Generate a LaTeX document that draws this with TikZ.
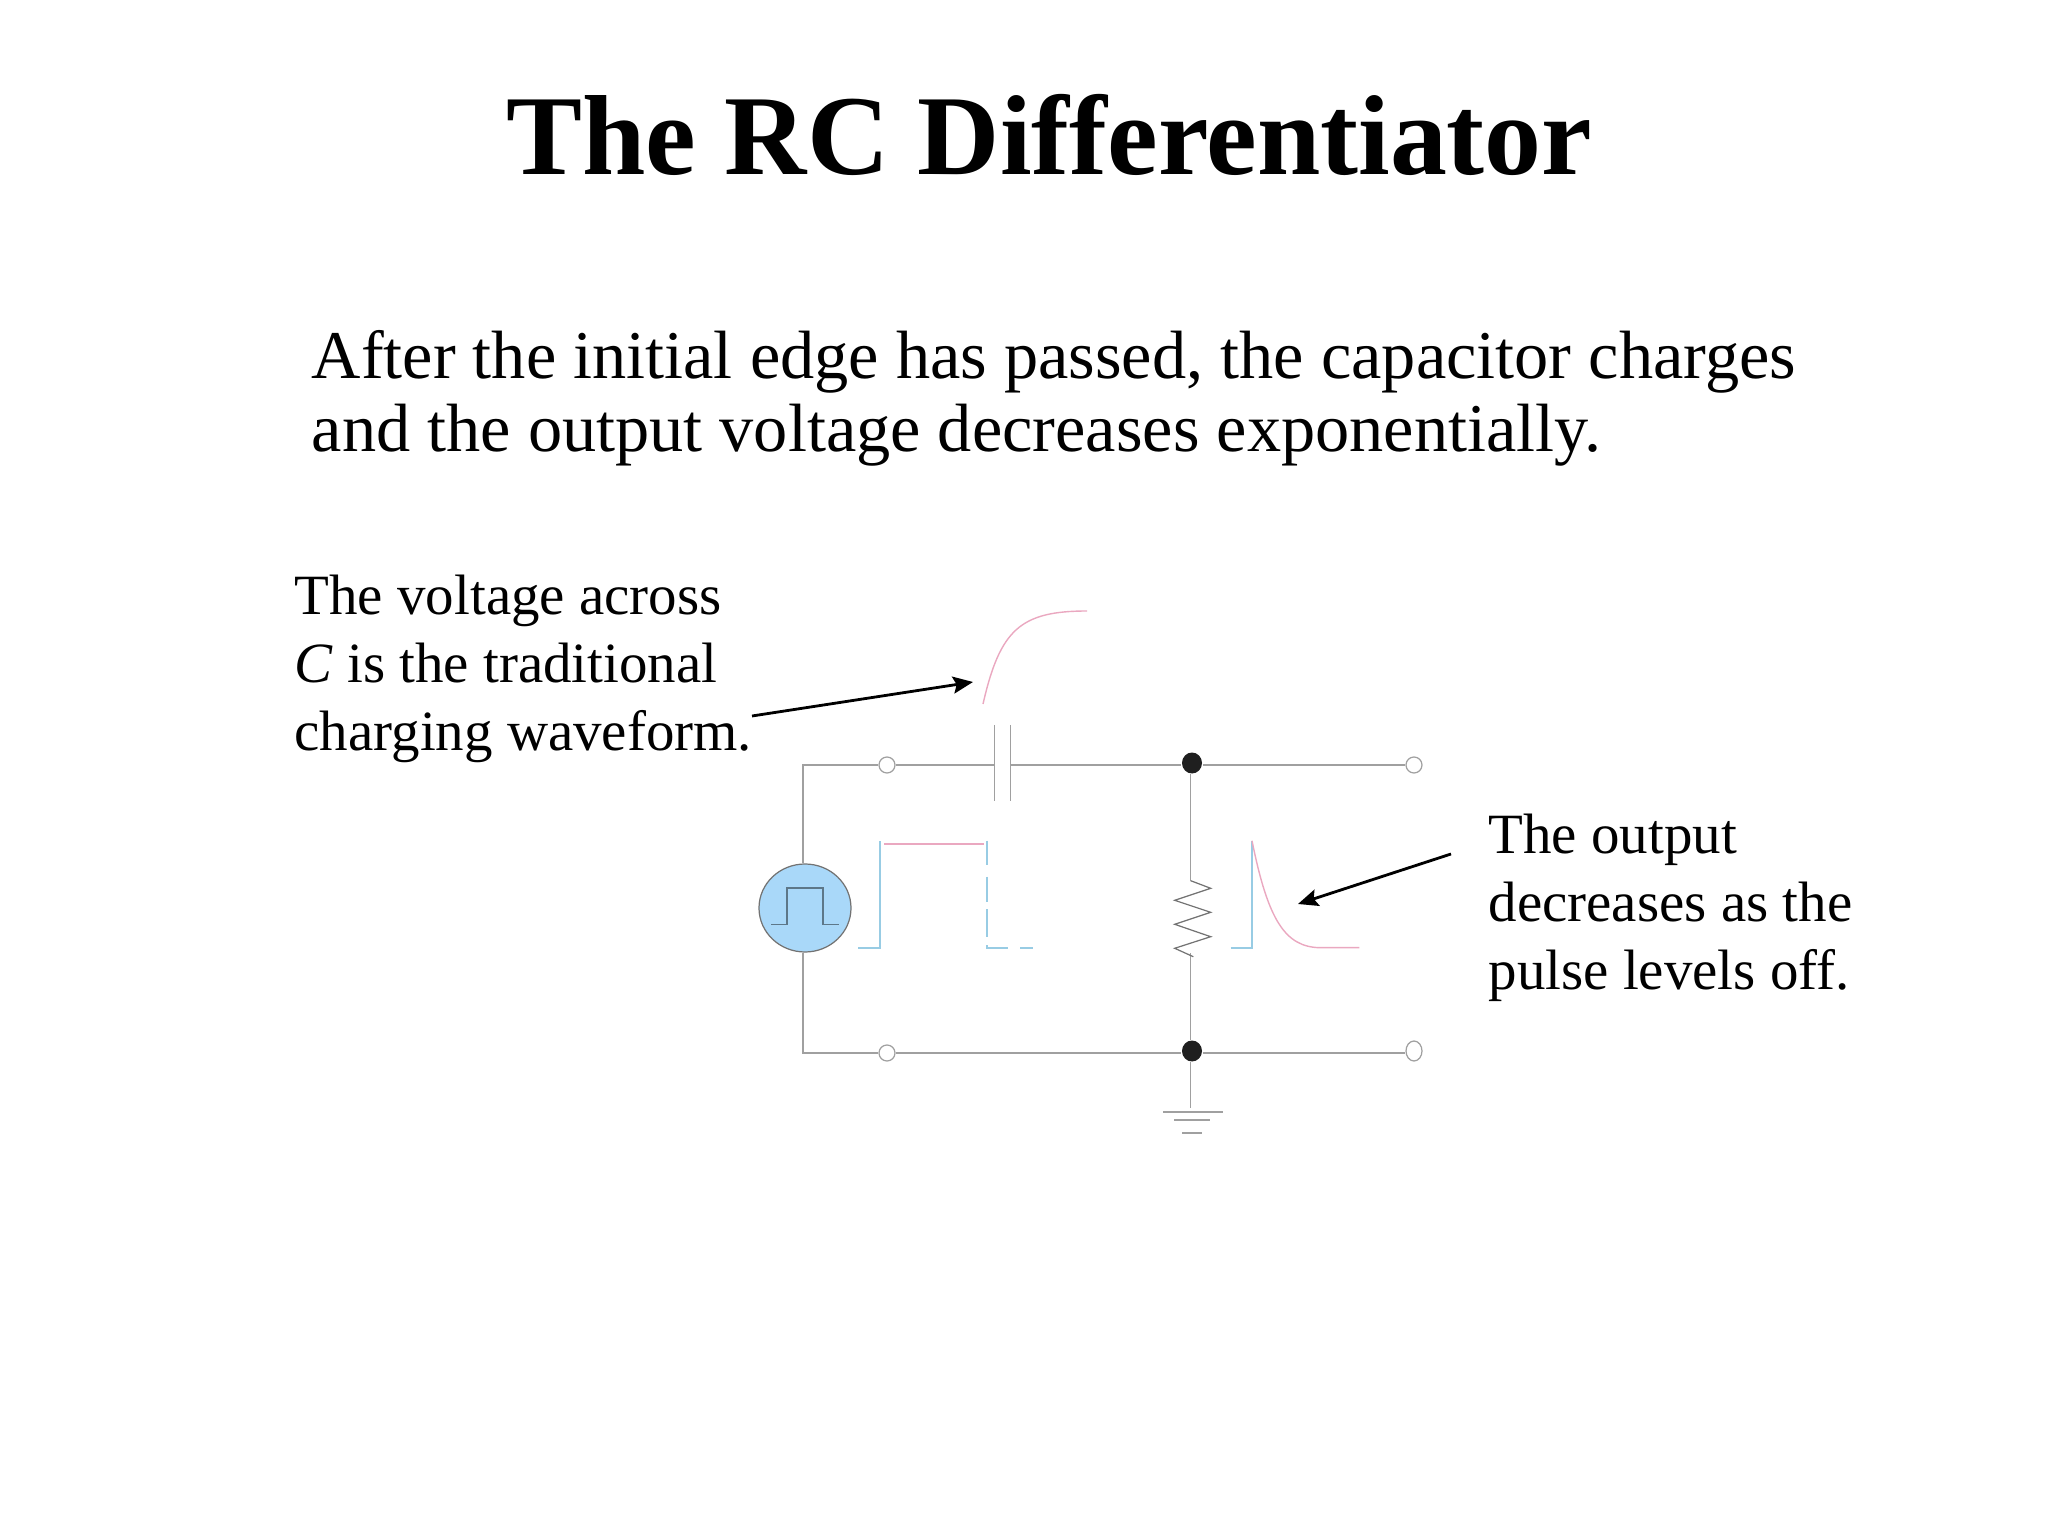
\documentclass[tikz,border=0pt]{standalone}
\usepackage{fontspec}
\usepackage{tikz}
\usetikzlibrary{arrows.meta}
\usetikzlibrary{shapes.geometric}
\setmainfont{Liberation Serif}
\definecolor{wiregray}{HTML}{A0A0A0}
\definecolor{srcblue}{HTML}{A9D8F9}
\definecolor{waveblue}{HTML}{98CCE4}
\definecolor{wavepink}{HTML}{EAA8C0}
\tikzstyle{wire} = [line width=0.4pt,wiregray]
\tikzstyle{term} = [circle,draw=wiregray,fill=white,line width=0.35pt,minimum size=0.16cm,inner sep=0pt]
\tikzstyle{junc} = [ellipse,fill=black!88,minimum width=0.2cm,minimum height=0.21cm,inner sep=0pt]
\tikzstyle{bluewave} = [line width=0.5pt,waveblue]
\tikzstyle{pinkwave} = [line width=0.4pt,wavepink]
\tikzstyle{callarrow} = [line width=0.8pt,-{Stealth[length=0.2cm,width=0.17cm,inset=0.035cm]}]
\tikzstyle{slidetext} = [inner sep=0pt,align=left,anchor=north west]
\tikzstyle{bodyfont} = [font=\fontsize{19.44}{20.8}\selectfont]
\tikzstyle{notefont} = [font=\fontsize{16.2}{19.4}\selectfont]

\begin{document}
\begin{tikzpicture}
			\useasboundingbox (0,-15.36) rectangle (20.48,0);
			\node[inner sep=0pt,anchor=base,font=\fontsize{32.4}{36}\selectfont\bfseries] (title) at (10.495,-1.75) {The RC Differentiator};
			\node[slidetext,bodyfont] (body) at (3.11,-3.30) {After the initial edge has passed, the capacitor charges\\and the output voltage decreases exponentially.};
			\node[slidetext,notefont] (leftnote) at (2.94,-5.74) {The voltage across\\\textit{C} is the traditional\\charging waveform.};
			\node[slidetext,notefont] (rightnote) at (14.88,-8.13) {The output\\decreases as the\\pulse levels off.};
			\coordinate (cornertl) at (8.03,-7.65);
			\coordinate (cornerbl) at (8.03,-10.53);
			\node[term] (inTop) at (8.87,-7.65) {};
			\node[term] (inBot) at (8.87,-10.53) {};
			\node[term] (outTop) at (14.14,-7.65) {};
			\node[term,ellipse,minimum width=0.16cm,minimum height=0.2cm] (outBot) at (14.14,-10.51) {};
			\node[junc] (jTop) at (11.92,-7.63) {};
			\node[junc] (jBot) at (11.92,-10.51) {};
			\node[ellipse,draw=black!55,fill=srcblue,line width=0.35pt,minimum width=0.92cm,minimum height=0.88cm,inner sep=0pt] (src) at (8.05,-9.08) {};
			\coordinate (capL) at (9.945,-7.65);
			\coordinate (capR) at (10.105,-7.65);
			\coordinate (resTop) at (11.907,-8.807);
			\coordinate (resBot) at (11.907,-9.53);
			\coordinate (gnd) at (11.907,-11.08);
			\draw[wire] (src.north -| cornertl) -- (cornertl) -- (inTop);
			\draw[wire] (src.south -| cornerbl) -- (cornerbl) -- (inBot);
			\draw[wire] (inTop) -- (capL);
			\draw[wire] (capR) -- (jTop.west |- capR);
			\draw[wire] (jTop.east |- capR) -- (outTop);
			\draw[wire] (inBot) -- (jBot.west |- inBot);
			\draw[wire] (jBot.east |- inBot) -- (outBot.west |- inBot);
			\draw[wire] (capL |- 0,-7.25) -- (capL |- 0,-8.01);
			\draw[wire] (capR |- 0,-7.25) -- (capR |- 0,-8.01);
			\draw[wire] (resTop |- jTop.south) -- (resTop);
			\draw[wire] (resBot) -- (resBot |- jBot.north);
			\draw[wire] (jBot.south -| gnd) -- (gnd);
			\draw[line width=0.35pt,black!55] (resTop) -- (12.107,-8.883) -- (11.747,-9.003) -- (12.107,-9.123) -- (11.747,-9.243) -- (12.107,-9.367) -- (11.747,-9.483) -- (11.933,-9.567);
			\draw[wire] (11.63,-11.12) -- (12.23,-11.12);
			\draw[wire] (11.74,-11.2) -- (12.10,-11.2);
			\draw[wire] (11.82,-11.33) -- (12.02,-11.33);
			\draw[line width=0.4pt,black!45!srcblue] (7.71,-9.245) -- (7.87,-9.245) -- (7.87,-8.88) -- (8.23,-8.88) -- (8.23,-9.245) -- (8.39,-9.245);
			\draw[pinkwave] (9.83,-7.04) .. controls (10.0,-6.3) and (10.2,-6.11) .. (10.87,-6.11);
			\draw[bluewave] (8.58,-9.477) -- (8.797,-9.477) -- (8.797,-8.407);
			\draw[pinkwave] (8.84,-8.44) -- (9.84,-8.44);
			\draw[bluewave] (9.87,-8.407) -- (9.87,-8.65);
			\draw[bluewave] (9.87,-8.767) -- (9.87,-9.017);
			\draw[bluewave] (9.87,-9.09) -- (9.87,-9.367);
			\draw[bluewave] (9.87,-9.45) -- (9.87,-9.477) -- (10.08,-9.477);
			\draw[bluewave] (10.2,-9.477) -- (10.33,-9.477);
			\draw[bluewave] (12.307,-9.477) -- (12.52,-9.477) -- (12.52,-8.407);
			\draw[pinkwave] (12.52,-8.407) .. controls (12.68,-9.2) and (12.85,-9.47) .. (13.2,-9.477) -- (13.593,-9.477);
			\coordinate (leftTail) at (7.52,-7.16);
			\coordinate (leftTip) at (9.73,-6.82);
			\coordinate (rightTail) at (14.51,-8.54);
			\coordinate (rightTip) at (12.98,-9.04);
			\draw[callarrow] (leftTail) -- (leftTip);
			\draw[callarrow] (rightTail) -- (rightTip);
		\end{tikzpicture}
\end{document}
